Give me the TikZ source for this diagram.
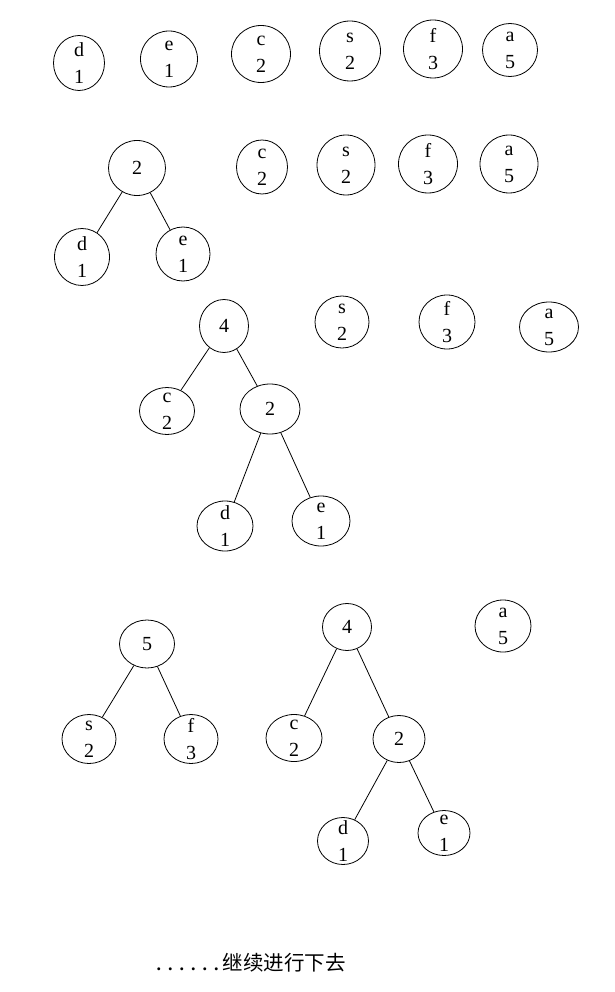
\documentclass[tikz,border=0pt]{standalone}
\usepackage{fontspec}
\setmainfont{Liberation Serif}
\newfontfamily\cjk{Noto Sans CJK SC}
\usetikzlibrary{shapes.geometric}

\begin{document}
\begin{tikzpicture}[x=1pt,y=-1pt,line width=0.8pt,
                    every node/.style={font=\fontsize{20}{27}\selectfont},
                    hnode/.style={shape=ellipse,draw,align=center,inner xsep=0pt,inner ysep=-12pt,
                                  minimum width=56pt,minimum height=54pt}]
  \useasboundingbox (0,0) rectangle (614,992);

  % row 1
  \node[hnode,minimum width=51pt,minimum height=55pt] (d1) at (79,63)  {d\\1};
  \node[hnode,minimum width=57pt,minimum height=56pt] (e1) at (169,59) {e\\1};
  \node[hnode,minimum width=59pt,minimum height=57pt] (c1) at (261,54) {c\\2};
  \node[hnode,minimum width=61pt,minimum height=60pt] (s1) at (350,51) {s\\2};
  \node[hnode,minimum width=59pt,minimum height=58pt] (f1) at (433,49) {f\\3};
  \node[hnode,minimum width=55pt,minimum height=53pt] (a1) at (510,50) {a\\5};

  % row 2
  \node[hnode,minimum width=57pt,minimum height=55pt] (r2) at (137,168) {2};
  \node[hnode,minimum width=55pt,minimum height=57pt] (d2) at (82,257)  {d\\1};
  \node[hnode,minimum width=54pt,minimum height=54pt] (e2) at (183,254) {e\\1};
  \node[hnode,minimum width=51pt,minimum height=54pt] (c2) at (262,167) {c\\2};
  \node[hnode,minimum width=58pt,minimum height=60pt] (s2) at (346,165) {s\\2};
  \node[hnode,minimum width=59pt,minimum height=58pt] (f2) at (428,164) {f\\3};
  \node[hnode,minimum width=58pt,minimum height=58pt] (a2) at (509,164) {a\\5};

  \path (r2) edge (d2)
        (r2) edge (e2);

  % row 3
  \node[hnode,minimum width=49pt,minimum height=53pt] (r3) at (224,326) {4};
  \node[hnode,minimum width=55pt,minimum height=47pt] (c3) at (167,411) {c\\2};
  \node[hnode,minimum width=60pt,minimum height=50pt] (m3) at (270,409) {2};
  \node[hnode,minimum width=56pt,minimum height=50pt] (d3) at (225,526) {d\\1};
  \node[hnode,minimum width=58pt,minimum height=50pt] (e3) at (321,521) {e\\1};
  \node[hnode,minimum width=54pt,minimum height=52pt] (s3) at (342,322) {s\\2};
  \node[hnode,minimum width=56pt,minimum height=54pt] (f3) at (447,322) {f\\3};
  \node[hnode,minimum width=59pt,minimum height=50pt] (a3) at (549,327) {a\\5};

  \path (r3) edge (c3)
        (r3) edge (m3)
        (m3) edge (d3)
        (m3) edge (e3);

  % row 4
  \node[hnode,minimum width=55pt,minimum height=48pt] (t4) at (147,644) {5};
  \node[hnode,minimum width=54pt,minimum height=49pt] (s4) at (89,739)  {s\\2};
  \node[hnode,minimum width=54pt,minimum height=49pt] (f4) at (191,739) {f\\3};
  \node[hnode,minimum width=49pt,minimum height=47pt] (r4) at (347,627) {4};
  \node[hnode,minimum width=56pt,minimum height=47pt] (c4) at (294,738) {c\\2};
  \node[hnode,minimum width=52pt,minimum height=47pt] (m4) at (399,739) {2};
  \node[hnode,minimum width=51pt,minimum height=47pt] (d4) at (343,841) {d\\1};
  \node[hnode,minimum width=52pt,minimum height=45pt] (e4) at (444,833) {e\\1};
  \node[hnode,minimum width=56pt,minimum height=52pt] (a4) at (503,626) {a\\5};

  \path (t4) edge (s4)
        (t4) edge (f4)
        (r4) edge (c4)
        (r4) edge (m4)
        (m4) edge (d4)
        (m4) edge (e4);

  \node[anchor=west,font=\fontsize{18}{22}\selectfont\bfseries] (more) at (153,963)
       {.\hspace{7pt}.\hspace{7pt}.\hspace{7pt}.\hspace{7pt}.\hspace{7pt}.\hspace{4pt}{\fontsize{20.5}{24}\selectfont\mdseries\cjk 继续进行下去}};
\end{tikzpicture}
\end{document}
